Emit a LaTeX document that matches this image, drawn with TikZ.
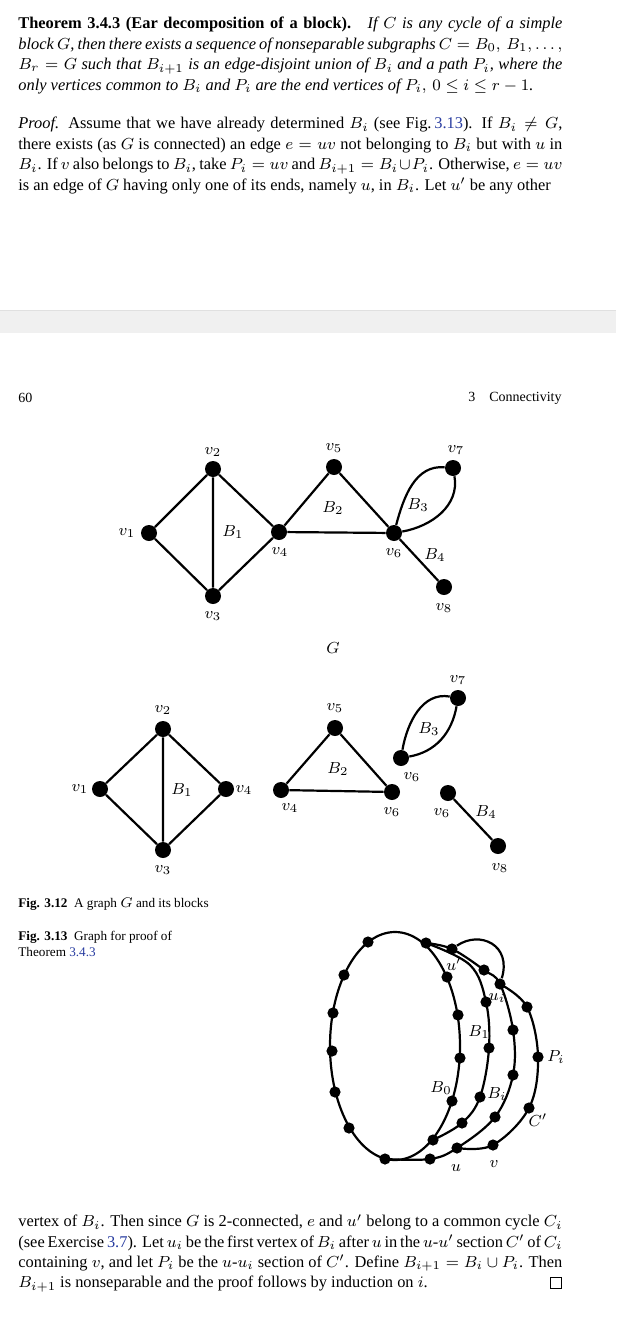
\documentclass[tikz,border=0pt]{standalone}
\usepackage{fontspec}
\setmainfont{Liberation Serif}
\usepackage{xcolor}
\usetikzlibrary{calc}
\definecolor{lnk}{RGB}{40,60,160}
\tikzset{
 dot/.style={circle,fill=black,inner sep=0pt,minimum size=8pt},
 sdot/.style={circle,fill=black,inner sep=0pt,minimum size=5.6pt},
 edge/.style={line width=1.1pt},
 lab/.style={font=\fontsize{8.5}{9}\selectfont,inner sep=0pt},
 para/.style={anchor=north west,inner sep=0pt,text width=272pt,align=justify,font=\fontsize{8.2}{10.2}\selectfont},
 capt/.style={anchor=west,inner sep=0pt,font=\fontsize{6.6}{8}\selectfont}
}
\begin{document}
\begin{tikzpicture}[x=0.5pt,y=-0.5pt]
\useasboundingbox (0,0) rectangle (616,1322);
% top text
\node[para] (t1) at (18,17) {\textbf{Theorem 3.4.3 (Ear decomposition of a block).}\quad \textit{If $C$ is any cycle of a simple\linebreak block $G$, then there exists a sequence of nonseparable subgraphs $C=B_0,\,B_1,\ldots,$\linebreak $B_r=G$ such that $B_{i+1}$ is an edge-disjoint union of $B_i$ and a path $P_i$, where the\linebreak only vertices common to $B_i$ and $P_i$ are the end vertices of $P_i,\,0\le i\le r-1$.}};
\node[para] (t2) at (18,117) {\textit{Proof.} Assume that we have already determined $B_i$ (see Fig.\,\textcolor{lnk}{3.13}). If $B_i\neq G$,\linebreak there exists (as $G$ is connected) an edge $e=uv$ not belonging to $B_i$ but with $u$ in\linebreak $B_i$. If $v$ also belongs to $B_i$, take $P_i=uv$ and $B_{i+1}=B_i\cup P_i$. Otherwise, $e=uv$\linebreak is an edge of $G$ having only one of its ends, namely $u$, in $B_i$. Let $u'$ be any other};
% page break band
\fill[black!6] (0,310) rectangle (616,333);
\draw[black!12] (0,310) -- (616,310);
\node[capt,font=\fontsize{7}{8}\selectfont] (pg) at (18,398) {60};
\node[anchor=east,inner sep=0pt,font=\fontsize{7}{8}\selectfont] (hd) at (562,398) {3\quad Connectivity};
% Graph G
\node[dot] (a1) at (149,533) {};
\node[dot] (a2) at (213,469) {};
\node[dot] (a3) at (213,596) {};
\node[dot] (a4) at (279,532) {};
\node[dot] (a5) at (334,467) {};
\node[dot] (a6) at (394,533) {};
\node[dot] (a7) at (453,468) {};
\node[dot] (a8) at (444,587) {};
\draw[edge] (a1)--(a2) (a1)--(a3) (a2)--(a3) (a2)--(a4) (a3)--(a4) (a4)--(a5) (a5)--(a6) (a4)--(a6) (a6)--(a8);
\draw[edge] (a6) to[out=75,in=175] (a7);
\draw[edge] (a6) to[out=10,in=-80] (a7);
\node[lab] (la1) at (127,533) {$v_1$};
\node[lab] (la2) at (213,452) {$v_2$};
\node[lab] (la3) at (213,616) {$v_3$};
\node[lab] (la4) at (280,552) {$v_4$};
\node[lab] (la5) at (334,448) {$v_5$};
\node[lab] (la6) at (394,553) {$v_6$};
\node[lab] (la7) at (456,450) {$v_7$};
\node[lab] (la8) at (444,608) {$v_8$};
\node[lab] (lb1) at (233,532) {$B_1$};
\node[lab] (lb2) at (333,508) {$B_2$};
\node[lab] (lb3) at (418,505) {$B_3$};
\node[lab] (lb4) at (435,555) {$B_4$};
\node[lab] (lg) at (333,648) {$G$};
% blocks
\node[dot] (b1) at (100,789) {};
\node[dot] (b2) at (163,729) {};
\node[dot] (b3) at (163,850) {};
\node[dot] (b4) at (226,789) {};
\node[dot] (c4) at (281,790) {};
\node[dot] (c5) at (335,728) {};
\node[dot] (c6) at (392,792) {};
\node[dot] (d6) at (401,758) {};
\node[dot] (d7) at (458,698) {};
\node[dot] (e6) at (448,793) {};
\node[dot] (e8) at (498,846) {};
\draw[edge] (b1)--(b2) (b1)--(b3) (b2)--(b3) (b2)--(b4) (b3)--(b4) (c4)--(c5) (c5)--(c6) (c4)--(c6) (e6)--(e8);
\draw[edge] (d6) to[out=80,in=170] (d7);
\draw[edge] (d6) to[out=10,in=-100] (d7);
\node[lab] (lb1a) at (80,789) {$v_1$};
\node[lab] (lb2a) at (163,710) {$v_2$};
\node[lab] (lb3a) at (163,870) {$v_3$};
\node[lab] (lb4a) at (244,790) {$v_4$};
\node[lab] (lc4) at (290,808) {$v_4$};
\node[lab] (lc5) at (335,708) {$v_5$};
\node[lab] (lc6) at (392,812) {$v_6$};
\node[lab] (ld6) at (412,777) {$v_6$};
\node[lab] (ld7) at (458,680) {$v_7$};
\node[lab] (le6) at (442,813) {$v_6$};
\node[lab] (le8) at (500,868) {$v_8$};
\node[lab] (lB1) at (182,790) {$B_1$};
\node[lab] (lB2) at (338,769) {$B_2$};
\node[lab] (lB3) at (429,729) {$B_3$};
\node[lab] (lB4) at (486,812) {$B_4$};
% captions
\node[capt] (f1) at (18,904) {\textbf{Fig. 3.12}\ \ A graph $G$ and its blocks};
\node[capt,anchor=north west,align=left] (f2) at (18,931) {\textbf{Fig. 3.13}\ \ Graph for proof of\\Theorem \textcolor{lnk}{3.4.3}};
% ear figure
\draw[edge] (395,1046) ellipse [x radius=65, y radius=114];
\foreach \n/\p in {1/{368,942},2/{344,975},3/{333,1013},4/{332,1051},5/{335,1092},6/{349,1128},7/{385,1159},8/{426,943},9/{447,977},10/{458,1015},11/{460,1058},12/{452,1101},13/{433,1140}}
  \node[sdot] (e\n) at (\p) {};
\node[sdot] (g1) at (486,1002) {};
\node[sdot] (g2) at (489,1048) {};
\node[sdot] (g3) at (480,1097) {};
\node[sdot] (g4) at (462,1123) {};
\draw[edge] plot[smooth,tension=0.6] coordinates {(426,943) (470,965) (486,1002) (489,1048) (480,1097) (462,1123) (433,1140)};
\node[sdot] (h1) at (452,949) {};
\node[sdot] (h2) at (484,970) {};
\node[sdot] (ui) at (500,984) {};
\node[sdot] (h3) at (513,1030) {};
\node[sdot] (h4) at (513,1075) {};
\node[sdot] (h5) at (495,1117) {};
\node[sdot] (uu) at (457,1148) {};
\node[sdot] (w1) at (430,1159) {};
\draw[edge] plot[smooth,tension=0.6] coordinates {(426,943) (452,949) (484,970) (500,984) (513,1030) (513,1075) (495,1117) (457,1148) (430,1159) (385,1159)};
\draw[edge] (h1) .. controls (480,930) and (512,945) .. (ui);
\node[sdot] (vv) at (493,1145) {};
\node[sdot] (p1) at (529,1108) {};
\node[sdot] (p2) at (538,1057) {};
\node[sdot] (p3) at (527,1007) {};
\draw[edge] plot[smooth,tension=0.6] coordinates {(500,984) (527,1007) (538,1057) (529,1108) (493,1145) (457,1148)};
\node[lab] (lu1) at (454,964) {$u'$};
\node[lab] (lui) at (497,998) {$u_i$};
\node[lab] (lB1e) at (479,1032) {$B_1$};
\node[lab] (lB0) at (441,1088) {$B_0$};
\node[lab] (lBi) at (497,1094) {$B_i$};
\node[lab] (lPi) at (556,1057) {$P_i$};
\node[lab] (lC) at (538,1120) {$C'$};
\node[lab] (lu) at (456,1168) {$u$};
\node[lab] (lv) at (494,1164) {$v$};
% bottom text
\node[para] (t3) at (18,1214) {vertex of $B_i$. Then since $G$ is 2-connected, $e$ and $u'$ belong to a common cycle $C_i$\linebreak (see Exercise \textcolor{lnk}{3.7}). Let $u_i$ be the first vertex of $B_i$ after $u$ in the $u$-$u'$ section $C'$ of $C_i$\linebreak containing $v$, and let $P_i$ be the $u$-$u_i$ section of $C'$. Define $B_{i+1}=B_i\cup P_i$. Then\linebreak $B_{i+1}$ is nonseparable and the proof follows by induction on $i$.};
\draw[line width=0.5pt] (550,1277) rectangle (561,1288);
\end{tikzpicture}
\end{document}
